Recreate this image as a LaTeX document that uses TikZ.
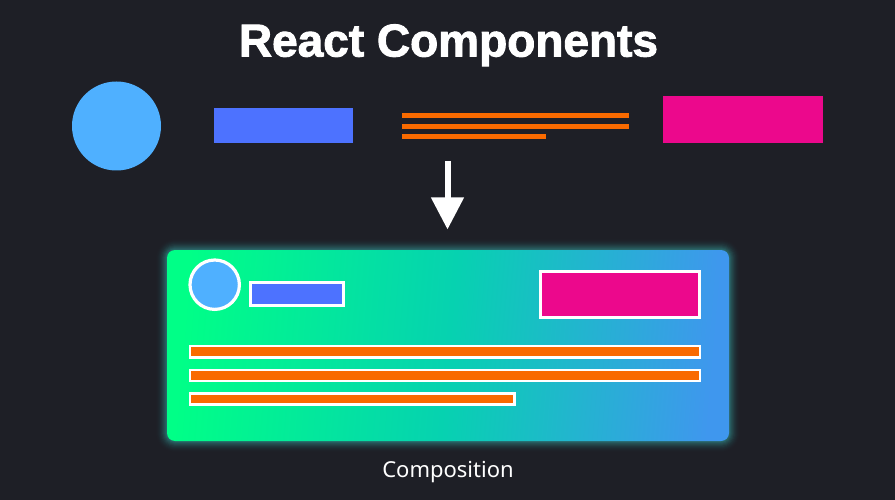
\documentclass[tikz,border=0pt]{standalone}
\usepackage{fontspec}
\setmainfont{Liberation Sans}
\newfontfamily\titlefont[FakeBold=2]{Liberation Sans}
\newfontfamily\bodyfont{Noto Sans}
\usetikzlibrary{arrows.meta}
\definecolor{bgc}{HTML}{1E1F26}
\definecolor{skyc}{HTML}{4FB0FF}
\definecolor{bluec}{HTML}{4D72FF}
\definecolor{orangec}{HTML}{F96A00}
\definecolor{pinkc}{HTML}{EC088C}
\definecolor{glowc}{HTML}{42C8C4}
\definecolor{gradA}{HTML}{00FF87}
\definecolor{gradM}{HTML}{06D2B0}
\definecolor{gradB}{HTML}{3F97EE}
\pgfdeclarehorizontalshading{cardgrad}{100bp}{color(0bp)=(gradA); color(25bp)=(gradA); color(50bp)=(gradM); color(75bp)=(gradB); color(100bp)=(gradB)}
\tikzset{
  x=1pt,y=-1pt,
  shapebox/.style={rectangle,inner sep=0pt,outer sep=0pt},
  framed/.style={shapebox,draw=white,line width=#1},
  framed/.default=3.2pt,
  flow/.style={-{Triangle[length=32pt,width=31.5pt]},white,line width=6pt},
}
\begin{document}
\begin{tikzpicture}
\useasboundingbox (0,0) rectangle (895,500);
\fill[bgc] (0,0) rectangle (895,500);
\node[font=\titlefont\fontsize{46}{46}\selectfont\bfseries,white,inner sep=0pt,anchor=base] (title) at (448.5,56.5) {React Components};
% source parts
\node[circle,fill=skyc,inner sep=0pt,minimum size=89pt] (srccircle) at (116.5,126) {};
\node[shapebox,fill=bluec,minimum width=138.6pt,minimum height=35pt] (srcblue) at (283.7,126) {};
\node[shapebox,fill=orangec,minimum width=227pt,minimum height=4.8pt] (srcline1) at (515.5,115.4) {};
\node[shapebox,fill=orangec,minimum width=227pt,minimum height=4.8pt] (srcline2) at (515.5,126.7) {};
\node[shapebox,fill=orangec,minimum width=143.7pt,minimum height=4.8pt] (srcline3) at (473.85,136.7) {};
\node[shapebox,fill=pinkc,minimum width=160pt,minimum height=47pt] (srcpink) at (743.2,120) {};
% arrow
\coordinate (arrowstart) at (447.5,161);
\coordinate (arrowend) at (447.5,229.5);
\draw[flow] (arrowstart) -- (arrowend);
% glow
\foreach \g in {1,...,14}{
  \pgfmathsetmacro{\glowop}{0.13*(1-\g/15)*(1-\g/15)}
  \fill[glowc,opacity=\glowop,rounded corners=8+\g] (167-\g,250-\g) rectangle (729+\g,441+\g);
}
% card
\node[shapebox,rounded corners=8pt,minimum width=562pt,minimum height=191pt,shading=cardgrad,shading angle=-5] (card) at (448,345.5) {};
\node[circle,draw=white,line width=3.2pt,fill=skyc,inner sep=0pt,outer sep=0pt,minimum size=49.4pt] (cardcircle) at (214.7,284.7) {};
\node[framed,fill=bluec,minimum width=93.1pt,minimum height=23.4pt] (cardblue) at (297.1,294) {};
\node[framed,fill=pinkc,minimum width=158.8pt,minimum height=45.8pt] (cardpink) at (620,294.5) {};
\node[framed=2.3pt,fill=orangec,minimum width=509.7pt,minimum height=11.1pt] (cardbar1) at (445,351.8) {};
\node[framed=2.3pt,fill=orangec,minimum width=509.7pt,minimum height=11.1pt] (cardbar2) at (445,375.6) {};
\node[framed=2.3pt,fill=orangec,minimum width=324.4pt,minimum height=11.1pt] (cardbar3) at (352.35,399) {};
\node[font=\bodyfont\fontsize{22}{22}\selectfont,white,inner sep=0pt,anchor=base] (caption) at (448,477) {Composition};
\end{tikzpicture}
\end{document}
